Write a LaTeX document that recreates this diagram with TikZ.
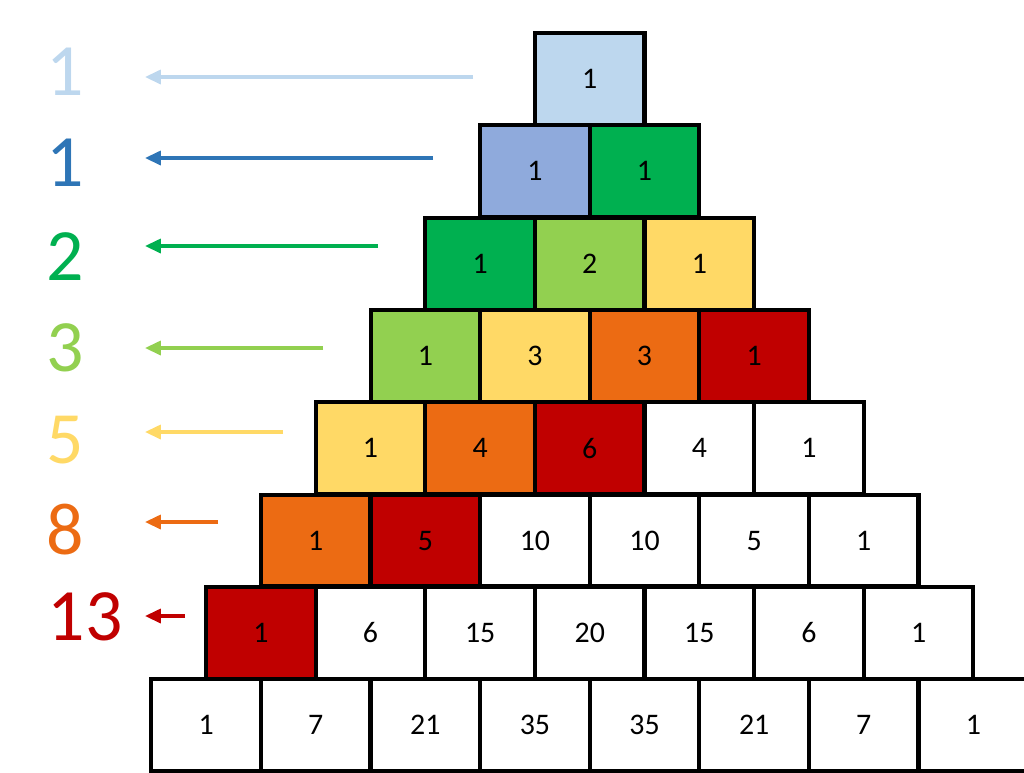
\documentclass[tikz,border=0pt]{standalone}
\usepackage{fontspec}
\setmainfont{Carlito}
\usetikzlibrary{arrows.meta}
\definecolor{c0}{HTML}{BDD7EE}
\definecolor{c1}{HTML}{8FAADC}
\definecolor{c2}{HTML}{00B050}
\definecolor{c3}{HTML}{92D050}
\definecolor{c4}{HTML}{FFD966}
\definecolor{c5}{HTML}{EC6B13}
\definecolor{c6}{HTML}{C00000}
\definecolor{c7}{HTML}{FFFFFF}
\definecolor{l0}{HTML}{BDD7EE}
\definecolor{l1}{HTML}{2E75B6}
\begin{document}
\begin{tikzpicture}[x=0.02cm,y=-0.02cm,
 cell/.style={draw=black,line width=2.3pt,minimum width=2.19cm,minimum height=1.84cm,inner sep=0pt,font=\fontsize{17}{20}\selectfont,anchor=north west},
 lab/.style={font=\fontsize{42}{48}\selectfont},
 arr/.style={line width=1.8pt,-{Triangle[length=9pt,width=8pt]}}]
\useasboundingbox (0,0) rectangle (1024,772);
\foreach \r/\vals in {0/{1},1/{1,1},2/{1,2,1},3/{1,3,3,1},4/{1,4,6,4,1},5/{1,5,10,10,5,1},6/{1,6,15,20,15,6,1},7/{1,7,21,35,35,21,7,1}}{
  \foreach \v [count=\k from 0] in \vals {
    \pgfmathtruncatemacro{\d}{min(\r+\k,7)}
    \node[cell,fill=c\d] (n\r-\k) at ({533-54.8*\r+109.6*\k},{31+92.3*\r}) {\v};
  }
}
\foreach \r/\t/\col/\xs/\ya/\xl/\yl in {0/1/l0/473/77/65/72,1/1/l1/433/158/65/163,2/2/c2/378/246/65/257,3/3/c3/323/348/65/348,4/5/c4/283/432/65/440,5/8/c5/218/522/65/530,6/13/c6/185/616/85/617}{
  \node[lab,text=\col] (t\r) at (\xl,\yl) {\t};
  \coordinate (s\r) at (\xs,\ya);
  \coordinate (e\r) at (145,\ya);
  \draw[arr,draw=\col] (s\r) -- (e\r);
}
\end{tikzpicture}
\end{document}
